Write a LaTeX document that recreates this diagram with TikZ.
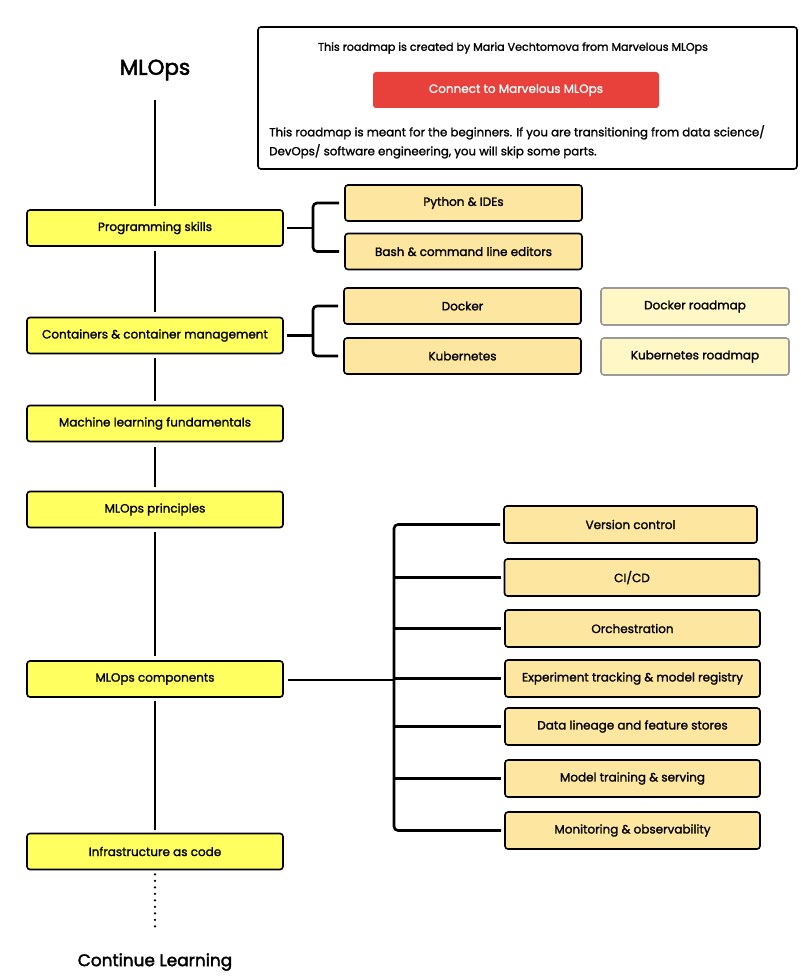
\documentclass[tikz,border=0pt]{standalone}
\usepackage{fontspec}
\setmainfont{Poppins}[UprightFeatures={FakeBold=1.4}]
\newfontfamily\titlefont{Poppins}[UprightFeatures={FakeBold=2.2}]
\definecolor{mainy}{HTML}{FFFF5F}
\definecolor{suby}{HTML}{FDE6A0}
\definecolor{liy}{HTML}{FFF8C6}
\definecolor{btnred}{HTML}{E8403A}
\definecolor{lgrey}{HTML}{9A9A9A}
\begin{document}
\begin{tikzpicture}[x=1pt,y=-1pt,
  lbl/.style={font=\fontsize{12}{13}\selectfont},
  mainbox/.style={lbl,draw=black,line width=1.6pt,fill=mainy,rounded corners=3pt,minimum width=256pt,minimum height=36pt,inner sep=0pt},
  subbox/.style={lbl,draw=black,line width=1.6pt,fill=suby,rounded corners=3pt,minimum width=237pt,minimum height=36pt,inner sep=0pt},
  compbox/.style={lbl,draw=black,line width=1.6pt,fill=suby,rounded corners=3pt,minimum width=255pt,minimum height=37pt,inner sep=0pt},
  linkbox/.style={lbl,draw=lgrey,line width=1.6pt,fill=liy,rounded corners=3pt,minimum width=188pt,minimum height=37pt,inner sep=0pt},
  trunk/.style={line width=2.6pt},
  conn/.style={line width=2.6pt,rounded corners=4pt}
]
\useasboundingbox[fill=white] (0,0) rectangle (800,979);

% info box
\node[draw=black,line width=1.6pt,rounded corners=3pt,minimum width=539pt,minimum height=142pt,inner sep=0pt] (info) at (527.5,98) {};
\node[font=\fontsize{11.1}{13}\selectfont] (credit) at (513,48) {This roadmap is created by Maria Vechtomova from Marvelous MLOps};
\node[fill=btnred,rounded corners=3pt,minimum width=286pt,minimum height=36pt,inner sep=0pt,text=white,font=\fontsize{12}{13}\selectfont] (btn) at (516,90) {Connect to Marvelous MLOps};
\node[anchor=north west,align=left,inner sep=0pt,font=\fontsize{11.8}{19}\selectfont] (para) at (269,125) {This roadmap is meant for the beginners. If you are transitioning from data science/\\DevOps/ software engineering, you will skip some parts.};

% titles
\node[font=\fontsize{21.5}{24}\selectfont\titlefont] (title) at (155,70) {MLOps};
\node[font=\fontsize{16.9}{19}\selectfont\titlefont] (cont) at (155,962) {Continue Learning};

% main boxes
\node[mainbox] (prog) at (155,228) {Programming skills};
\node[mainbox] (cont1) at (155,335.5) {Containers \& container management};
\node[mainbox] (mlf) at (155,423.5) {Machine learning fundamentals};
\node[mainbox] (princ) at (155,509.5) {MLOps principles};
\node[mainbox] (comp) at (155,679) {MLOps components};
\node[mainbox] (iac) at (155,851.5) {Infrastructure as code};

% sub boxes
\node[subbox] (py) at (463.5,203) {Python \& IDEs};
\node[subbox] (bash) at (463.5,251.5) {Bash \& command line editors};
\node[subbox] (dock) at (462.5,306) {Docker};
\node[subbox] (kube) at (462.5,356) {Kubernetes};
\node[linkbox] (dockr) at (695,306.5) {Docker roadmap};
\node[linkbox] (kuber) at (695,356.5) {Kubernetes roadmap};

% components
\node[compbox,minimum width=253pt] (vc) at (630.5,524.5) {Version control};
\node[compbox] (cicd) at (632,577.5) {CI/CD};
\node[compbox] (orch) at (632.5,628.5) {Orchestration};
\node[compbox] (exp) at (632.5,678.5) {Experiment tracking \& model registry};
\node[compbox] (dl) at (632.5,726.5) {Data lineage and feature stores};
\node[compbox] (mt) at (632.5,778.5) {Model training \& serving};
\node[compbox] (mon) at (632.5,830.5) {Monitoring \& observability};

% trunk
\draw[trunk] (155,100) -- ([yshift=3pt]prog.north);
\draw[trunk] ([yshift=-4pt]prog.south) -- ([yshift=5pt]cont1.north);
\draw[trunk] ([yshift=-4pt]cont1.south) -- ([yshift=4pt]mlf.north);
\draw[trunk] ([yshift=-5pt]mlf.south) -- ([yshift=4pt]princ.north);
\draw[trunk] ([yshift=-4pt]princ.south) -- ([yshift=4pt]comp.north);
\draw[trunk] ([yshift=-3pt]comp.south) -- ([yshift=3pt]iac.north);
\draw[line width=2.6pt,line cap=round,dash pattern=on 0pt off 6.5pt] ([yshift=-4pt]iac.south) -- (155,930);

% programming bracket
\coordinate (pj) at (313,228);
\draw[line width=2.6pt] ([xshift=3pt]prog.east) -- (pj);
\draw[conn] ([xshift=-5pt]py.west) -| (pj) |- ([xshift=-5pt]bash.west);
% containers bracket
\coordinate (cj) at (313,335.5);
\draw[line width=2.6pt] ([xshift=3pt]cont1.east) -- (cj);
\draw[conn] ([xshift=-5pt]dock.west) -| (cj) |- ([xshift=-5pt]kube.west);
% components bracket
\coordinate (kj) at (394,680);
\draw[line width=2.6pt] ([xshift=4pt]comp.east |- kj) -- (kj);
\draw[conn] ([xshift=-3pt]vc.west) -| (kj) |- ([xshift=-3pt]mon.west);
\foreach \n in {cicd,orch,exp,dl,mt}{
  \draw[line width=2.6pt] (394,0 |- \n.west) -- ([xshift=-3pt]\n.west);
}
\end{tikzpicture}
\end{document}
